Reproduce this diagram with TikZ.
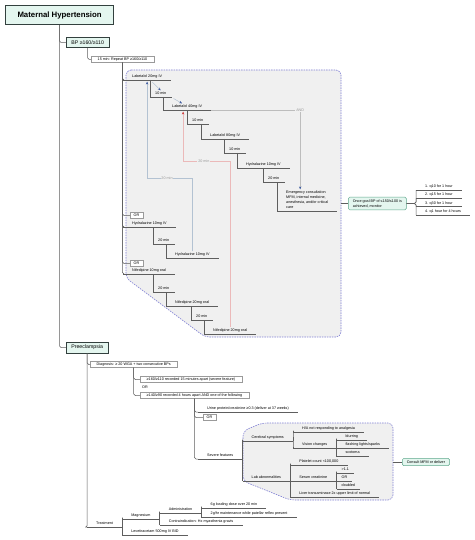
\documentclass[tikz,border=0pt]{standalone}
\usepackage{fontspec}
\setmainfont{Liberation Sans}
\usetikzlibrary{arrows.meta,calc}

\definecolor{mint}{HTML}{E4F6EF}
\definecolor{darkb}{HTML}{33403E}
\definecolor{linec}{HTML}{5E5E5E}
\definecolor{boxg}{HTML}{9A9A9A}
\definecolor{regfill}{HTML}{F0F0F0}
\definecolor{regline}{HTML}{8080D4}
\definecolor{goalb}{HTML}{5FA88C}
\definecolor{relgrey}{HTML}{BDBDBD}
\definecolor{relblue}{HTML}{B3C2D2}
\definecolor{tipblue}{HTML}{3D5A9E}
\definecolor{relred}{HTML}{EBB9B9}
\definecolor{tipred}{HTML}{D03A3A}
\definecolor{labg}{HTML}{9A9A9A}

\newcommand{\tsz}{\fontsize{3.7}{5}\selectfont}

\begin{document}
\begin{tikzpicture}[x=1pt, y=-1pt,
  conn/.style={draw=linec, line width=0.5pt, rounded corners=1.5pt},
  topic/.style={anchor=south west, font=\tsz, inner xsep=9pt, inner ysep=1.3pt,
    text depth=0.9pt,
    append after command={(\tikzlastnode.south west) edge[conn] (\tikzlastnode.south east)}},
  short/.style={topic, inner xsep=5pt},
  mbox/.style={draw=darkb, fill=mint, line width=0.8pt, anchor=west,
    inner xsep=5pt, inner ysep=3pt, font=\fontsize{5.2}{6}\selectfont},
  sbox/.style={draw=boxg, fill=white, line width=0.4pt, anchor=west,
    inner xsep=6.5pt, inner ysep=1pt, text height=2.8pt, text depth=0.9pt, font=\tsz},
  orbox/.style={sbox, inner xsep=3.5pt},
  goalbox/.style={draw=goalb, fill=mint, rounded corners=1.5pt, line width=0.5pt,
    anchor=west, inner xsep=4.5pt, inner ysep=2.3pt, font=\tsz, align=left},
  region/.style={fill=regfill, draw=regline, line width=0.6pt,
    dash pattern=on 1.5pt off 1pt, rounded corners=5pt},
  relb/.style={draw=relblue, line width=0.5pt, -{Stealth[length=3pt,width=2.4pt,color=tipblue]}},
  relg/.style={draw=relgrey, line width=0.5pt, -{Stealth[length=3pt,width=2.4pt,color=tipblue]}},
  relr/.style={draw=relred, line width=0.5pt, -{Stealth[length=3pt,width=2.4pt,color=tipred]}},
  rlab/.style={font=\tsz, text=labg, fill=regfill, inner sep=0.8pt}]

\path[use as bounding box, fill=white] (0,0) rectangle (474,540);

% Boundaries behind the two groups
\path[region] (126,70) -- (341,70) -- (341,337) -- (205,337) -- (126,278) -- cycle;
\path[region] (262,423) -- (393,423) -- (393,500) -- (290,500) -- (243,481) -- (243,431) -- cycle;
\coordinate (r1e) at (341,203.5);
\coordinate (r2e) at (393,462);

% Main topics
\node[mbox, line width=1pt, font=\fontsize{7.8}{9}\selectfont\bfseries,
    inner xsep=12pt, inner ysep=6pt] (title) at (5,15) {Maternal Hypertension};
\node[mbox] (bp) at (66,42.5) {BP ≥160/≥110};
\node[mbox] (prec) at (66,347.5) {Preeclampsia};
\node[sbox] (rep) at (91,59.5) {15 min: Repeat BP ≥160/≥110};

% Labetalol ladder
\node[topic] (lab20) at (123,80) {Labetalol 20mg IV};
\node[short] (min1) at (150,97) {10 min};
\node[topic] (lab40) at (163,110) {Labetalol 40mg IV};
\node[short] (min2) at (187,124) {10 min};
\node[topic] (lab80) at (201,139) {Labetalol 80mg IV};
\node[short] (min3) at (224,153) {10 min};
\node[topic] (hyd) at (237,168) {Hydralazine 10mg IV};
\node[short] (min4) at (263,182) {20 min};
\node[topic, align=left] (em) at (277,211)
    {Emergency consultation\\MFM, internal medicine,\\anesthesia, and/or critical\\care};

% Hydralazine and nifedipine branches
\node[orbox] (or1) at (130,215.5) {OR};
\node[topic] (hyd1) at (123,227) {Hydralazine 10mg IV};
\node[short] (min6) at (153,244) {20 min};
\node[topic] (hyd2) at (166,258) {Hydralazine 10mg IV};
\node[orbox] (or2) at (130,263.5) {OR};
\node[topic] (nif10) at (123,274) {Nifedipine 10mg oral};
\node[short] (min7) at (153,292) {20 min};
\node[topic] (nif20a) at (166,306) {Nifedipine 20mg oral};
\node[short] (min8) at (191,320) {20 min};
\node[topic] (nif20b) at (204,334) {Nifedipine 20mg oral};

% Monitoring summary
\node[goalbox] (goal) at (348,203.5) {Once goal BP of ≤150/≤100 is\\achieved, monitor};
\node[topic] (mon1) at (416,190) {1. q10 for 1 hour};
\node[topic] (mon2) at (416,198.3) {2. q15 for 1 hour};
\node[topic] (mon3) at (416,206.7) {3. q30 for 1 hour};
\node[topic] (mon4) at (416,215) {4. q1 hour for 4 hours};

% Preeclampsia
\node[sbox] (diag) at (90,364.5) {Diagnosis: ≥ 20 WGA + two consecutive BPs};
\node[sbox] (c160) at (140,379.5) {≥160/≥110 recorded 15 minutes apart (severe feature)};
\node[font=\tsz, anchor=west, inner sep=1pt] (orA) at (141,387.5) {OR};
\node[sbox] (c140) at (140,395.5) {≥140/≥90 recorded 4 hours apart AND one of the following};
\node[topic] (urine) at (198,412) {Urine protein/creatinine ≥0.3 (deliver at 37 weeks)};
\node[orbox] (or3) at (203,417.5) {OR};
\node[topic] (sev) at (198,459) {Severe features};

\node[topic] (cer) at (sev.south east |- 0,441) {Cerebral symptoms};
\node[topic] (lab) at (sev.south east |- 0,481) {Lab abnormalities};
\node[topic] (ha) at (cer.south east |- 0,432) {H/A not responding to analgesia};
\node[topic] (vis) at (cer.south east |- 0,448) {Vision changes};
\node[topic] (blur) at (vis.south east |- 0,440) {blurring};
\node[topic] (flash) at (vis.south east |- 0,448) {flashing lights/sparks};
\node[topic] (scot) at (vis.south east |- 0,456) {scotoma};
\node[topic] (plt) at (lab.south east |- 0,465) {Platelet count <100,000};
\node[topic] (ser) at (lab.south east |- 0,481) {Serum creatinine};
\node[topic] (liv) at (lab.south east |- 0,497) {Liver transaminase 2x upper limit of normal};
\node[short] (gt) at (ser.south east |- 0,473) {>1.1};
\node[short] (orB) at (ser.south east |- 0,481) {OR};
\node[short] (dbl) at (ser.south east |- 0,489) {doubled};
\node[goalbox] (cons) at (402,462) {Consult MFM or deliver};

% Treatment
\node[topic] (treat) at (87,527) {Treatment};
\node[topic] (mag) at (treat.south east |- 0,519) {Magnesium};
\node[topic] (lev) at (treat.south east |- 0,535) {Levetiracetam 500mg IV BID};
\node[topic] (adm) at (mag.south east |- 0,513) {Administration};
\node[topic] (contra) at (mag.south east |- 0,525) {Contraindication: Hx myasthenia gravis};
\node[topic] (load) at (adm.south east |- 0,508) {6g loading dose over 20 min};
\node[topic] (maint) at (adm.south east |- 0,517) {2g/hr maintenance while patellar reflex present};

% Tree connectors
\draw[conn] (title.south) |- (bp.west);
\draw[conn] (title.south) |- (prec.west);
\draw[conn] (bp.south) |- (rep.west);
\foreach \c in {lab20, hyd1, nif10} \draw[conn] (rep.south) |- (\c.south west);
\foreach \c in {or1, or2} \draw[conn] (rep.south) |- (\c.west);
\foreach \p/\c in {lab20/min1, min1/lab40, lab40/min2, min2/lab80, lab80/min3, min3/hyd,
    hyd/min4, min4/em, hyd1/min6, min6/hyd2, nif10/min7, min7/nif20a, nif20a/min8, min8/nif20b}
  \draw[conn] (\p.south -| \c.south west) -- (\c.south west);
\draw[conn] (prec.south) |- (diag.west);
\draw[conn] (prec.south) |- (treat.south west);
\foreach \c in {c160, c140} \draw[conn] (diag.south) |- (\c.west);
\foreach \c in {urine, sev} \draw[conn] (c140.south) |- (\c.south west);
\draw[conn] (c140.south) |- (or3.west);

% Logic-chart brackets
\foreach \p/\c in {sev/cer, sev/lab, cer/ha, cer/vis, vis/blur, vis/flash, vis/scot,
    lab/plt, lab/ser, lab/liv, ser/gt, ser/orB, ser/dbl,
    treat/mag, treat/lev, mag/adm, mag/contra, adm/load, adm/maint}
  \draw[conn] (\p.south east) |- (\c.south west);
\foreach \i in {1,...,4} \draw[conn] (goal.east) -| (mon\i.south west);
\draw[conn] (r1e) -- (goal.west);
\draw[conn] (r2e) -- (cons.west);

% Relationships
\draw[relb] ([xshift=5pt, yshift=-2pt]lab20.south) -- (min1.north);
\draw[relb] ([xshift=2pt, yshift=-1.5pt]min1.south east) -- ([xshift=-5pt]lab40.north);
\draw[relg] (lab40.south east) -| node[rlab]{AND} ([xshift=-7pt]em.north);
\draw[relr] (nif20b.north) |- node[rlab, pos=0.78]{20 min} ($(lab40.south)+(-4,51)$)
    -- ($(lab40.south)+(-4,1.5)$);
\draw[relb] (hyd2.north) |- node[rlab, pos=0.78]{20 min} ($(lab20.south)+(0,98)$)
    -- ($(lab20.south)+(0,1.5)$);

\end{tikzpicture}
\end{document}
